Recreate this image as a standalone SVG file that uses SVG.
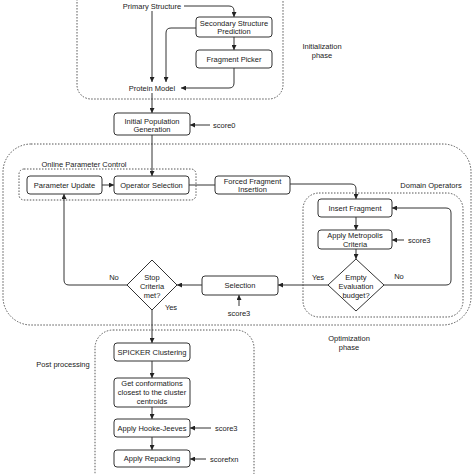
<svg xmlns="http://www.w3.org/2000/svg" width="474" height="474" viewBox="0 0 474 474">
<defs>
<marker id="ah" markerWidth="5" markerHeight="5" refX="5" refY="2.5" orient="auto" markerUnits="userSpaceOnUse">
<path d="M0,0 L5,2.5 L0,5 Z" fill="#222"/>
</marker>
<style>
text{font-family:"Liberation Sans",Arial,Helvetica,sans-serif;font-size:7.5px;fill:#1a1a1a;text-anchor:middle;dominant-baseline:central}
.box{fill:#fff;stroke:#333;stroke-width:1}
.grp{fill:none;stroke:#555;stroke-width:1;stroke-dasharray:1.5 1.5}
.c{fill:none;stroke:#333;stroke-width:1}
.a{marker-end:url(#ah)}
.l{text-anchor:start}
</style>
</defs>
<rect width="474" height="474" fill="#fff"/>

<g id="groups">
<rect id="init-phase" class="grp" x="77" y="-20" width="206" height="119" rx="14"/>
<rect id="opt-phase" class="grp" x="3" y="144" width="468" height="181" rx="28"/>
<rect id="online-param" class="grp" x="19" y="169" width="177" height="31" rx="5"/>
<rect id="domain-ops" class="grp" x="303" y="193" width="160" height="124" rx="16"/>
<rect id="post-proc" class="grp" x="95" y="330" width="159" height="160" rx="18"/>
</g>

<g id="group-labels">
<text x="322" y="46">Initialization</text>
<text x="322" y="55">phase</text>
<text x="84" y="164">Online Parameter Control</text>
<text x="431" y="185">Domain Operators</text>
<text x="349" y="338">Optimization</text>
<text x="349" y="347">phase</text>
<text x="63" y="364">Post processing</text>
</g>

<g id="connectors">
<path class="c a" d="M152,11 V82"/>
<path class="c a" d="M184,6 H229 Q234,6 234,11 V17"/>
<path class="c a" d="M196,28 H171 Q166,28 166,33 V82"/>
<path class="c a" d="M234,37 V50"/>
<path class="c a" d="M234,68 V83 Q234,88 229,88 H181"/>
<path class="c a" d="M152,93 V113"/>
<path class="c a" d="M210,125 H190"/>
<path class="c a" d="M152,135 V176"/>
<path class="c a" d="M102,185 H114"/>
<path class="c" d="M189,185 H215"/>
<path class="c a" d="M290,184 H351 Q356,184 356,189 V199"/>
<path class="c a" d="M356,217 V230"/>
<path class="c a" d="M404,240 H392"/>
<path class="c a" d="M356,249 V259"/>
<path class="c a" d="M384,285 H446 Q451,285 451,280 V213 Q451,208 446,208 H392"/>
<path class="c a" d="M328,285 H278"/>
<path class="c a" d="M239,306 V295"/>
<path class="c a" d="M202,285 H177"/>
<path class="c a" d="M127,285 H69 Q64,285 64,280 V194"/>
<path class="c a" d="M152,310 V343"/>
<path class="c a" d="M152,361 V378"/>
<path class="c a" d="M152,407 V419"/>
<path class="c a" d="M211,428 H190"/>
<path class="c a" d="M152,437 V450"/>
<path class="c a" d="M206,459 H190"/>
</g>

<g id="connector-labels">
<text x="213" y="125" class="l">score0</text>
<text x="408" y="240" class="l">score3</text>
<text x="399" y="276">No</text>
<text x="318" y="277">Yes</text>
<text x="239" y="313">score3</text>
<text x="114" y="277">No</text>
<text x="171" y="307">Yes</text>
<text x="215" y="428" class="l">score3</text>
<text x="210" y="459" class="l">scorefxn</text>
</g>

<g id="primary-structure"><text x="152" y="6">Primary Structure</text></g>
<g id="secondary-structure">
<rect class="box" x="196" y="17" width="76" height="20" rx="3"/>
<text x="234" y="23">Secondary Structure</text>
<text x="234" y="31.5">Prediction</text>
</g>
<g id="fragment-picker">
<rect class="box" x="196" y="50" width="76" height="18" rx="3"/>
<text x="234" y="59">Fragment Picker</text>
</g>
<g id="protein-model"><text x="152" y="88">Protein Model</text></g>
<g id="initial-population">
<rect class="box" x="114" y="113" width="76" height="22" rx="3"/>
<text x="152" y="121">Initial Population</text>
<text x="152" y="129.5">Generation</text>
</g>
<g id="parameter-update">
<rect class="box" x="27" y="176" width="75" height="18" rx="3"/>
<text x="64.5" y="185">Parameter Update</text>
</g>
<g id="operator-selection">
<rect class="box" x="114" y="176" width="75" height="18" rx="3"/>
<text x="151.5" y="185">Operator Selection</text>
</g>
<g id="forced-fragment">
<rect class="box" x="215" y="176" width="75" height="18" rx="3"/>
<text x="252.5" y="181">Forced Fragment</text>
<text x="252.5" y="189.5">Insertion</text>
</g>
<g id="insert-fragment">
<rect class="box" x="318" y="199" width="74" height="18" rx="3"/>
<text x="355" y="208">Insert Fragment</text>
</g>
<g id="apply-metropolis">
<rect class="box" x="318" y="230" width="74" height="19" rx="3"/>
<text x="355" y="235.5">Apply Metropolis</text>
<text x="355" y="244">Criteria</text>
</g>
<g id="empty-budget">
<polygon class="box" points="356,259 384,285 356,311 328,285"/>
<text x="356" y="277.5">Empty</text>
<text x="356" y="286.5">Evaluation</text>
<text x="356" y="295.5">budget?</text>
</g>
<g id="selection">
<rect class="box" x="202" y="276" width="76" height="19" rx="3"/>
<text x="240" y="285.5">Selection</text>
</g>
<g id="stop-criteria">
<polygon class="box" points="152,260 177,285 152,310 127,285"/>
<text x="152" y="277">Stop</text>
<text x="152" y="286">Criteria</text>
<text x="152" y="295">met?</text>
</g>
<g id="spicker">
<rect class="box" x="114" y="343" width="76" height="18" rx="3"/>
<text x="152" y="352">SPICKER Clustering</text>
</g>
<g id="get-conformations">
<rect class="box" x="114" y="378" width="76" height="29" rx="3"/>
<text x="152" y="383.5">Get conformations</text>
<text x="152" y="392.5">closest to the cluster</text>
<text x="152" y="401.5">centroids</text>
</g>
<g id="hooke-jeeves">
<rect class="box" x="114" y="419" width="76" height="18" rx="3"/>
<text x="152" y="428">Apply Hooke-Jeeves</text>
</g>
<g id="repacking">
<rect class="box" x="114" y="450" width="76" height="17" rx="3"/>
<text x="152" y="458.5">Apply Repacking</text>
</g>
</svg>
